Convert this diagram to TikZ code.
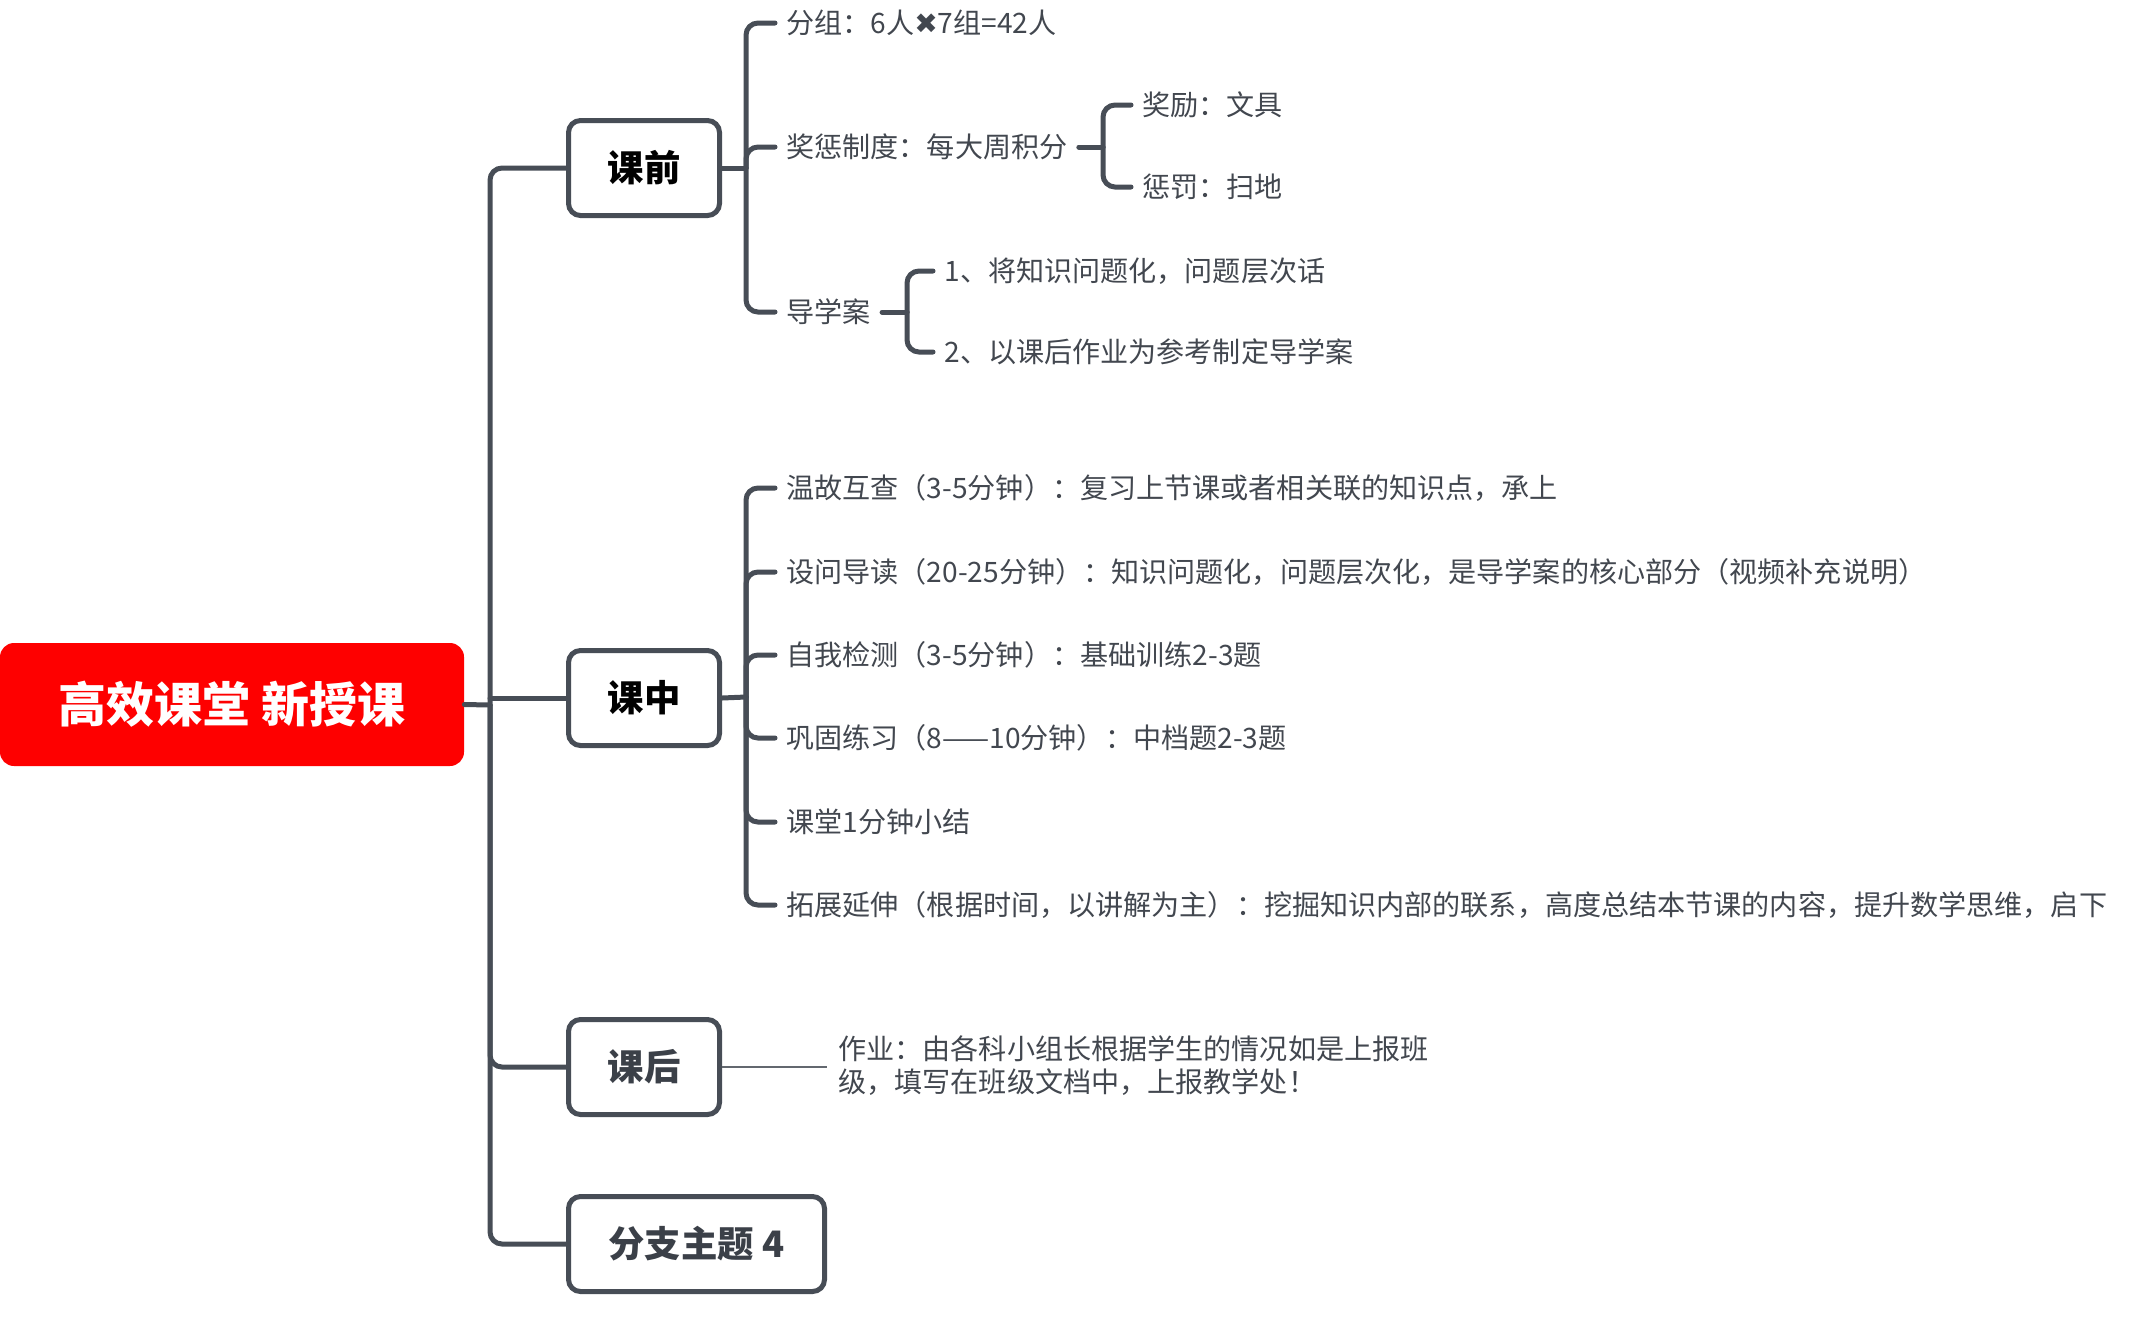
\documentclass[tikz,border=0pt]{standalone}
\usepackage{fontspec}
\setmainfont{Noto Sans CJK SC}
\newfontfamily\symfont{DejaVu Sans}
\definecolor{lineC}{HTML}{474D56}
\definecolor{leafC}{HTML}{42474F}
\definecolor{rootR}{HTML}{FE0000}
\definecolor{boxtxt}{HTML}{3B4048}
\begin{document}
\begin{tikzpicture}[x=0.5pt,y=-0.5pt,
  conn/.style={draw=lineC, line width=2.5pt, line cap=round, rounded corners=6pt},
  thinconn/.style={draw=lineC!85, line width=1pt},
  rootbox/.style={fill=rootR, rounded corners=7pt, minimum width=232pt, minimum height=61.5pt, inner sep=0pt, text=white, font=\bfseries\fontsize{24}{28}\selectfont},
  topic/.style={draw=lineC, line width=2.5pt, fill=white, rounded corners=6pt, minimum height=47.5pt, inner sep=0pt, font=\bfseries\fontsize{18.2}{21}\selectfont},
  leafbase/.style={anchor=west, inner xsep=5.5pt, inner ysep=0pt, text=leafC, font=\fontsize{14.05}{16.5}\selectfont},
  leaf/.style={leafbase, text height=12.2pt, text depth=1.9pt},
]
\useasboundingbox (0,0) rectangle (2145,1340);

% root and main topics
\node[rootbox] (root) at (232,704.5) {高效课堂 新授课};
\node[topic, minimum width=75.5pt, text=black] (kq) at (644,168) {课前};
\node[topic, minimum width=75.5pt, text=black] (kz) at (644,698) {课中};
\node[topic, minimum width=75.5pt, text=boxtxt] (kh) at (644,1067) {课后};
\node[topic, minimum width=128pt, text=boxtxt] (fz) at (696.5,1244) {分支主题 4};

\coordinate (J) at (490,705);
\draw[conn] (root.east) -- (J);
\draw[conn] (J) |- (kq.west);
\draw[conn] (J |- kz.west) -- (kz.west);
\draw[conn] (J) |- (kh.west);
\draw[conn] (J) |- (fz.west);

% 课前
\coordinate (KQ) at (746,168);
\draw[conn] (kq.east) -- (KQ);
\node[leaf] (a1) at (775,23) {分组：6人{\symfont ✖}7组=42人};
\node[leaf] (a2) at (775,147) {奖惩制度：每大周积分};
\node[leaf] (a3) at (775,312) {导学案};
\foreach \n in {a1,a2,a3} \draw[conn] (KQ) |- (\n.west);

\coordinate (KB) at (1103,147);
\draw[conn] (a2.east) -- (KB);
\node[leaf] (b1) at (1131,105) {奖励：文具};
\node[leaf] (b2) at (1131,187) {惩罚：扫地};
\foreach \n in {b1,b2} \draw[conn] (KB) |- (\n.west);

\coordinate (KD) at (907,312);
\draw[conn] (a3.east) -- (KD);
\node[leaf] (d1) at (933,271) {1、将知识问题化，问题层次话};
\node[leaf] (d2) at (933,352) {2、以课后作业为参考制定导学案};
\foreach \n in {d1,d2} \draw[conn] (KD) |- (\n.west);

% 课中
\coordinate (KZ) at (746,697);
\draw[conn] (kz.east) -- (KZ);
\node[leaf] (c1) at (775,488) {温故互查（3-5分钟）：复习上节课或者相关联的知识点，承上};
\node[leaf] (c2) at (775,572) {设问导读（20-25分钟）：知识问题化，问题层次化，是导学案的核心部分（视频补充说明）};
\node[leaf] (c3) at (775,655) {自我检测（3-5分钟）：基础训练2-3题};
\node[leaf] (c4) at (775,738) {巩固练习（8——10分钟）：中档题2-3题};
\node[leaf] (c5) at (775,822) {课堂1分钟小结};
\node[leaf] (c6) at (775,905) {拓展延伸（根据时间，以讲解为主）：挖掘知识内部的联系，高度总结本节课的内容，提升数学思维，启下};
\foreach \n in {c1,c2,c3,c4,c5,c6} \draw[conn] (KZ) |- (\n.west);

% 课后
\node[leafbase, align=left] (hw) at (827,1066) {作业：由各科小组长根据学生的情况如是上报班\\级，填写在班级文档中，上报教学处！};
\draw[thinconn] (kh.east) -- (kh.east -| hw.west);
\end{tikzpicture}
\end{document}
